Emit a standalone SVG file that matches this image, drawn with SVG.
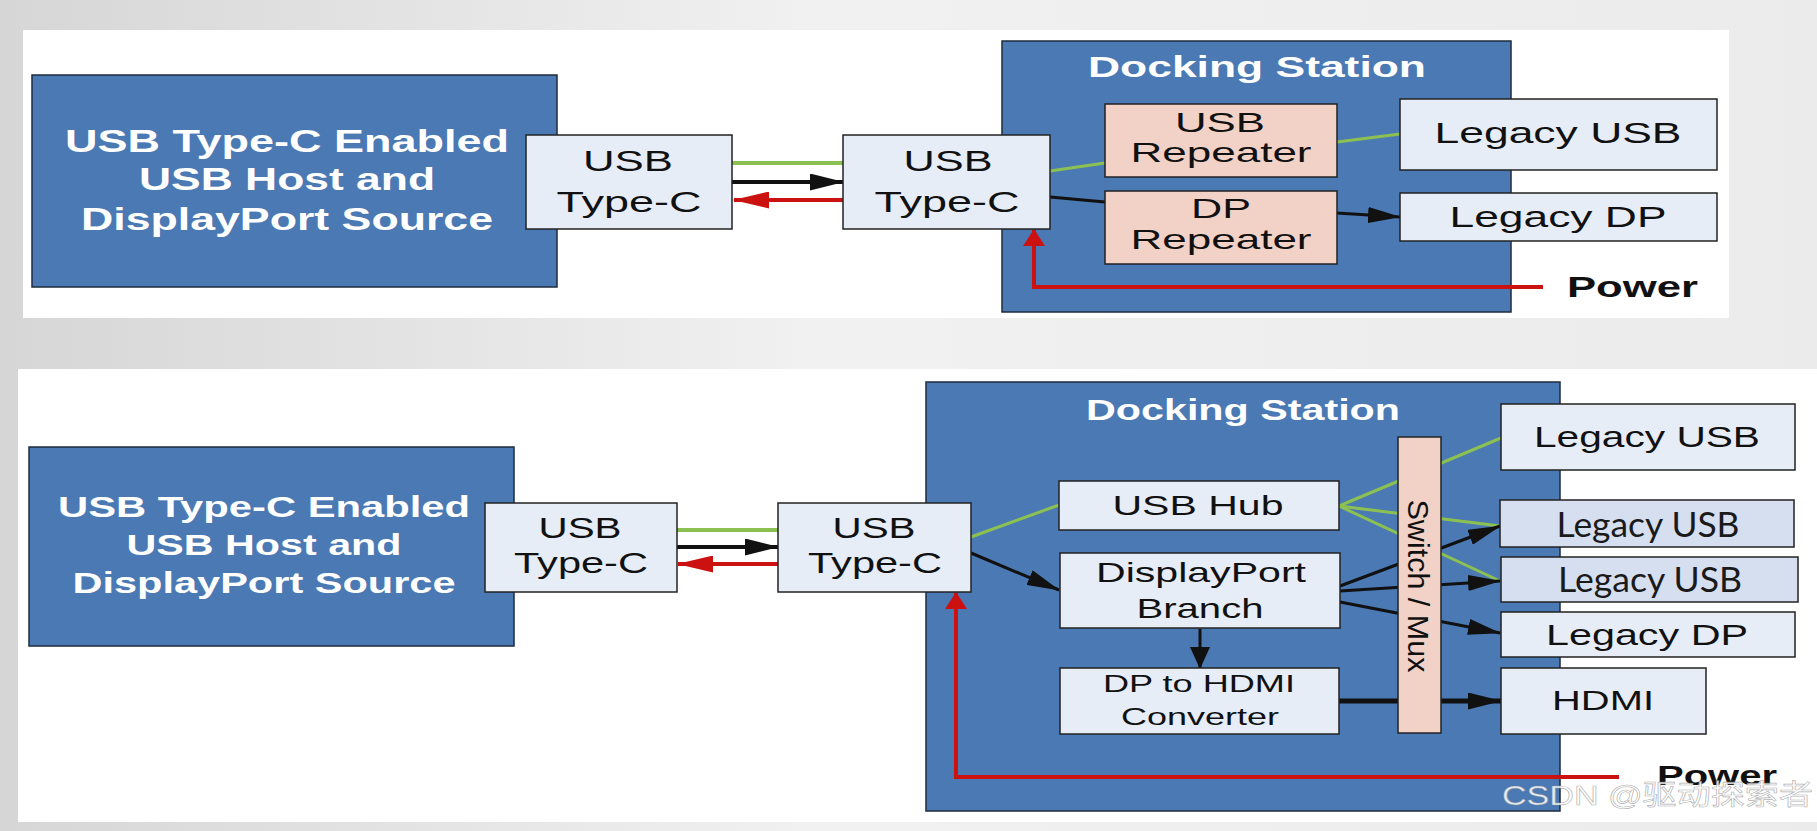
<svg xmlns="http://www.w3.org/2000/svg" width="1817" height="831" viewBox="0 0 1817 831">
<defs>
<linearGradient id="bg" x1="0" y1="0" x2="1" y2="0">
<stop offset="0" stop-color="#d6d6d6"/>
<stop offset="0.45" stop-color="#f1f1f1"/>
<stop offset="1" stop-color="#ebebeb"/>
</linearGradient>
<marker id="ah" markerUnits="userSpaceOnUse" markerWidth="34" markerHeight="17" refX="33" refY="8.5" orient="auto"><path d="M0,0 L34,8.5 L0,17 z" fill="#111"/></marker>
<marker id="ahs" markerUnits="userSpaceOnUse" markerWidth="33" markerHeight="16" refX="32" refY="8" orient="auto"><path d="M0,0 L33,8 L0,16 z" fill="#111"/></marker>
<marker id="ahd" markerUnits="userSpaceOnUse" markerWidth="22" markerHeight="20" refX="21" refY="10" orient="auto"><path d="M0,0 L22,10 L0,20 z" fill="#111"/></marker>
<marker id="ahr" markerUnits="userSpaceOnUse" markerWidth="36" markerHeight="17" refX="35" refY="8.5" orient="auto"><path d="M0,0 L36,8.5 L0,17 z" fill="#cc1111"/></marker>
<marker id="ahru" markerUnits="userSpaceOnUse" markerWidth="17" markerHeight="22" refX="16" refY="11" orient="auto"><path d="M0,0 L17,11 L0,22 z" fill="#cc1111"/></marker>
</defs>
<style>
.blue{fill:#4a79b4;stroke:#1e2b3c;stroke-width:1.5}
.lt{fill:#e7edf7;stroke:#222;stroke-width:1.5}
.lt2{fill:#d5dff0;stroke:#222;stroke-width:1.5}
.pk{fill:#f2d1c7;stroke:#222;stroke-width:1.5}
.wb{font-family:"Liberation Sans",Arial,sans-serif;font-weight:bold;fill:#fff;text-anchor:middle}
.tx{font-family:"Liberation Sans",Arial,sans-serif;fill:#111;text-anchor:middle}
.tc{font-family:Lato,"Open Sans",sans-serif;fill:#1a1a1a;text-anchor:middle}
.pw{font-family:"Liberation Sans",Arial,sans-serif;font-weight:bold;fill:#111}
.g{stroke:#8cc152;fill:none}
.k{stroke:#111;fill:none}
.r{stroke:#cc1111;fill:none}
</style>
<rect x="0" y="0" width="1817" height="831" fill="url(#bg)"/>
<rect x="23" y="30" width="1706" height="288" fill="#fff"/>
<rect x="18" y="369" width="1799" height="453" fill="#fff"/>

<!-- TOP SECTION -->
<g id="top-dock"><rect class="blue" x="1002" y="41" width="509" height="271"/>
<text class="wb" x="1257" y="77" font-size="30" textLength="338" lengthAdjust="spacingAndGlyphs">Docking Station</text></g>
<g id="top-host"><rect class="blue" x="32" y="75" width="525" height="212"/>
<text class="wb" x="287" y="152" font-size="32" textLength="444" lengthAdjust="spacingAndGlyphs">USB Type-C Enabled</text>
<text class="wb" x="287" y="190" font-size="32" textLength="296" lengthAdjust="spacingAndGlyphs">USB Host and</text>
<text class="wb" x="287" y="230" font-size="32" textLength="412" lengthAdjust="spacingAndGlyphs">DisplayPort Source</text></g>

<g id="top-connectors">
<line class="g" x1="732" y1="163" x2="843" y2="163" stroke-width="4"/>
<line class="k" x1="732" y1="182" x2="843" y2="182" stroke-width="4" marker-end="url(#ah)"/>
<line class="r" x1="843" y1="200" x2="734" y2="200" stroke-width="4" marker-end="url(#ahr)"/>
<line class="g" x1="1050" y1="171" x2="1105" y2="163" stroke-width="3"/>
<line class="g" x1="1337" y1="142" x2="1400" y2="134" stroke-width="3"/>
<line class="k" x1="1050" y1="197" x2="1105" y2="202" stroke-width="3"/>
<line class="k" x1="1337" y1="213" x2="1400" y2="217" stroke-width="3" marker-end="url(#ahs)"/>
<polyline class="r" points="1543,287 1034,287 1034,230" stroke-width="4" marker-end="url(#ahru)"/>
</g>

<g id="top-tc1"><rect class="lt" x="526" y="135" width="206" height="94"/>
<text class="tx" x="628" y="171" font-size="30" textLength="90" lengthAdjust="spacingAndGlyphs">USB</text>
<text class="tx" x="629" y="212" font-size="30" textLength="145" lengthAdjust="spacingAndGlyphs">Type-C</text></g>
<g id="top-tc2"><rect class="lt" x="843" y="135" width="207" height="94"/>
<text class="tx" x="948" y="171" font-size="30" textLength="89" lengthAdjust="spacingAndGlyphs">USB</text>
<text class="tx" x="947" y="212" font-size="30" textLength="145" lengthAdjust="spacingAndGlyphs">Type-C</text></g>
<g id="top-usbrep"><rect class="pk" x="1105" y="104" width="232" height="73"/>
<text class="tx" x="1220" y="132" font-size="28" textLength="90" lengthAdjust="spacingAndGlyphs">USB</text>
<text class="tx" x="1221" y="162" font-size="28" textLength="181" lengthAdjust="spacingAndGlyphs">Repeater</text></g>
<g id="top-dprep"><rect class="pk" x="1105" y="191" width="232" height="73"/>
<text class="tx" x="1221" y="218" font-size="28" textLength="60" lengthAdjust="spacingAndGlyphs">DP</text>
<text class="tx" x="1221" y="249" font-size="28" textLength="181" lengthAdjust="spacingAndGlyphs">Repeater</text></g>
<g id="top-lusb"><rect class="lt" x="1400" y="99" width="317" height="71"/>
<text class="tx" x="1558" y="143" font-size="29" textLength="247" lengthAdjust="spacingAndGlyphs">Legacy USB</text></g>
<g id="top-ldp"><rect class="lt" x="1400" y="193" width="317" height="48"/>
<text class="tx" x="1558" y="227" font-size="29" textLength="217" lengthAdjust="spacingAndGlyphs">Legacy DP</text></g>
<g id="top-power"><text class="pw" x="1567" y="297" font-size="30" textLength="131" lengthAdjust="spacingAndGlyphs">Power</text></g>

<!-- BOTTOM SECTION -->
<g id="bot-dock"><rect class="blue" x="926" y="382" width="634" height="429"/>
<text class="wb" x="1243" y="420" font-size="30" textLength="314" lengthAdjust="spacingAndGlyphs">Docking Station</text></g>
<g id="bot-host"><rect class="blue" x="29" y="447" width="485" height="199"/>
<text class="wb" x="264" y="517" font-size="29" textLength="412" lengthAdjust="spacingAndGlyphs">USB Type-C Enabled</text>
<text class="wb" x="264" y="555" font-size="29" textLength="275" lengthAdjust="spacingAndGlyphs">USB Host and</text>
<text class="wb" x="264" y="593" font-size="29" textLength="383" lengthAdjust="spacingAndGlyphs">DisplayPort Source</text></g>

<g id="bot-connectors">
<line class="g" x1="677" y1="530" x2="778" y2="530" stroke-width="4"/>
<line class="k" x1="677" y1="547" x2="778" y2="547" stroke-width="4" marker-end="url(#ah)"/>
<line class="r" x1="778" y1="564" x2="678" y2="564" stroke-width="4" marker-end="url(#ahr)"/>
<line class="g" x1="971" y1="537" x2="1059" y2="505" stroke-width="3"/>
<line class="k" x1="971" y1="553" x2="1059" y2="590" stroke-width="3" marker-end="url(#ahs)"/>
<line class="g" x1="1339" y1="506" x2="1501" y2="438" stroke-width="3"/>
<line class="g" x1="1339" y1="506" x2="1500" y2="526" stroke-width="3"/>
<line class="g" x1="1339" y1="506" x2="1500" y2="581" stroke-width="3"/>
<line class="k" x1="1340" y1="586" x2="1500" y2="526" stroke-width="3" marker-end="url(#ahs)"/>
<line class="k" x1="1340" y1="591" x2="1500" y2="581" stroke-width="3" marker-end="url(#ahs)"/>
<line class="k" x1="1340" y1="602" x2="1500" y2="633" stroke-width="3" marker-end="url(#ahs)"/>
<line class="k" x1="1200" y1="629" x2="1200" y2="668" stroke-width="3" marker-end="url(#ahd)"/>
<line class="k" x1="1339" y1="701" x2="1501" y2="701" stroke-width="5" marker-end="url(#ah)"/>
<polyline class="r" points="1619,777 956,777 956,593" stroke-width="4" marker-end="url(#ahru)"/>
</g>

<g id="bot-tc1"><rect class="lt" x="485" y="503" width="192" height="89"/>
<text class="tx" x="580" y="538" font-size="29" textLength="83" lengthAdjust="spacingAndGlyphs">USB</text>
<text class="tx" x="581" y="573" font-size="29" textLength="134" lengthAdjust="spacingAndGlyphs">Type-C</text></g>
<g id="bot-tc2"><rect class="lt" x="778" y="503" width="193" height="89"/>
<text class="tx" x="874" y="538" font-size="29" textLength="83" lengthAdjust="spacingAndGlyphs">USB</text>
<text class="tx" x="875" y="573" font-size="29" textLength="134" lengthAdjust="spacingAndGlyphs">Type-C</text></g>
<g id="bot-hub"><rect class="lt" x="1059" y="481" width="280" height="49"/>
<text class="tx" x="1198" y="515" font-size="28" textLength="171" lengthAdjust="spacingAndGlyphs">USB Hub</text></g>
<g id="bot-branch"><rect class="lt" x="1060" y="553" width="280" height="75"/>
<text class="tx" x="1201" y="582" font-size="28" textLength="210" lengthAdjust="spacingAndGlyphs">DisplayPort</text>
<text class="tx" x="1200" y="618" font-size="28" textLength="127" lengthAdjust="spacingAndGlyphs">Branch</text></g>
<g id="bot-conv"><rect class="lt" x="1060" y="668" width="279" height="66"/>
<text class="tx" x="1199" y="692" font-size="24" textLength="192" lengthAdjust="spacingAndGlyphs">DP to HDMI</text>
<text class="tx" x="1200" y="725" font-size="24" textLength="158" lengthAdjust="spacingAndGlyphs">Converter</text></g>
<g id="bot-switch"><rect class="pk" x="1398" y="437" width="43" height="296"/>
<text class="tx" transform="translate(1419,586) rotate(90)" x="0" y="11" font-size="30" textLength="173" lengthAdjust="spacingAndGlyphs">Switch / Mux</text></g>
<g id="bot-lusb1"><rect class="lt" x="1501" y="404" width="294" height="66"/>
<text class="tx" x="1647" y="447" font-size="30" textLength="226" lengthAdjust="spacingAndGlyphs">Legacy USB</text></g>
<g id="bot-lusb2"><rect class="lt2" x="1500" y="500" width="294" height="47"/>
<text class="tc" x="1648" y="537" font-size="34" textLength="183" lengthAdjust="spacingAndGlyphs">Legacy USB</text></g>
<g id="bot-lusb3"><rect class="lt2" x="1501" y="557" width="297" height="45"/>
<text class="tc" x="1650" y="592" font-size="34" textLength="184" lengthAdjust="spacingAndGlyphs">Legacy USB</text></g>
<g id="bot-ldp"><rect class="lt" x="1501" y="612" width="294" height="45"/>
<text class="tx" x="1647" y="645" font-size="30" textLength="202" lengthAdjust="spacingAndGlyphs">Legacy DP</text></g>
<g id="bot-hdmi"><rect class="lt" x="1501" y="668" width="205" height="66"/>
<text class="tx" x="1603" y="710" font-size="28" textLength="102" lengthAdjust="spacingAndGlyphs">HDMI</text></g>
<g id="bot-power"><text class="pw" x="1657" y="785" font-size="27" textLength="120" lengthAdjust="spacingAndGlyphs">Power</text></g>

<g id="watermark"><text x="1502" y="805" font-family="Liberation Sans,Noto Sans CJK SC,sans-serif" font-size="28" fill="#ffffff" fill-opacity="0.85" stroke="#8a8a8a" stroke-width="0.6" stroke-opacity="0.7" textLength="311" lengthAdjust="spacingAndGlyphs">CSDN @驱动探索者</text></g>
</svg>
